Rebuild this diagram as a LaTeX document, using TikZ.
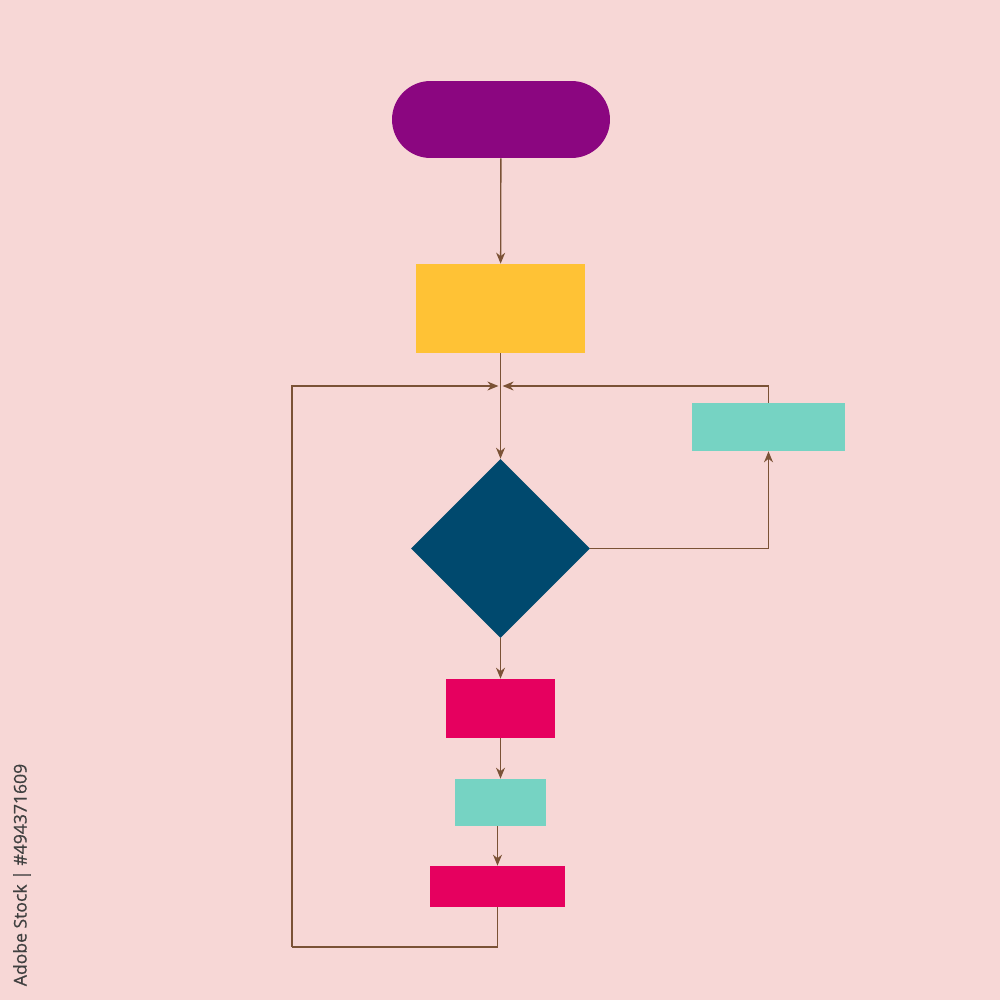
\documentclass[tikz,border=0pt]{standalone}
\usepackage{fontspec}
\newfontfamily\stockfont[FakeBold=0.6]{Open Sans}
\usetikzlibrary{arrows.meta,shapes.geometric}
\definecolor{bgpink}{HTML}{F7D7D6}
\definecolor{startpurple}{HTML}{8B0680}
\definecolor{boxyellow}{HTML}{FFC235}
\definecolor{boxteal}{HTML}{76D3C3}
\definecolor{decnavy}{HTML}{00496E}
\definecolor{boxred}{HTML}{E6005F}
\definecolor{linebrown}{HTML}{7B5236}
\tikzset{
	block/.style={draw=none, inner sep=0pt},
	flow/.style={draw=linebrown, line width=0.75pt, -{Stealth[length=2.2mm,width=1.8mm]}},
	loop/.style={draw=linebrown, line width=0.75pt}
}

\begin{document}
\begin{tikzpicture}[x=0.02cm, y=-0.02cm]
			%%%%% START %%%%%
			
			\fill[bgpink] (0, 0) rectangle (1000, 1000);
			
			\node[block, fill=startpurple, rounded corners=0.77cm, minimum width=4.36cm, minimum height=1.54cm] (start) at (501, 119.5) {};
			\node[block, fill=boxyellow, minimum width=3.38cm, minimum height=1.78cm] (prep) at (500.5, 308.5) {};
			\node[block, fill=boxteal, minimum width=3.06cm, minimum height=0.96cm] (retry) at (768.5, 427) {};
			\node[block, diamond, fill=decnavy, minimum width=3.58cm, minimum height=3.58cm] (check) at (500.5, 548.5) {};
			\node[block, fill=boxred, minimum width=2.2cm, minimum height=1.18cm] (stepA) at (500.5, 708.5) {};
			\node[block, fill=boxteal, minimum width=1.82cm, minimum height=0.94cm] (stepB) at (500.5, 802.5) {};
			\node[block, fill=boxred, minimum width=2.7cm, minimum height=0.82cm] (stepC) at (497.5, 886.5) {};
			
			\coordinate (join) at (500.5, 386);
			\coordinate (lowleft) at (292, 947);
			
			\draw[flow] (start) -- (prep);
			\draw[flow] (prep) -- (check);
			\draw[flow] (check) -- (stepA);
			\draw[flow] (stepA) -- (stepB);
			\draw[flow] (stepC.north |- stepB.south) -- (stepC.north);
			
			\draw[flow] (check.east) -| (retry.south);
			\draw[flow, shorten >=1.2] (retry.north) |- (join);
			
			\draw[loop] (stepC.south) |- (lowleft);
			\draw[flow, shorten >=1.2] (lowleft) |- (join);
			
			\node[rotate=90, text=black!75, font=\stockfont\fontsize{10}{12}\selectfont] (stockid) at (22, 875) {Adobe Stock | \#494371609};
			
			%%%%% END %%%%%
\end{tikzpicture}
\end{document}
